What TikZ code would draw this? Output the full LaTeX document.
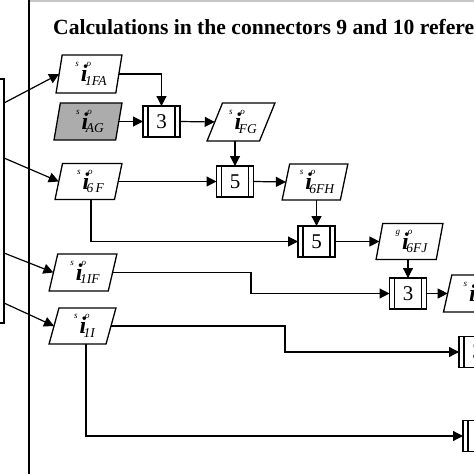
\documentclass[tikz,border=0pt]{standalone}
\usepackage{fontspec}
\setmainfont{Liberation Serif}
\usetikzlibrary{shapes.geometric,arrows.meta,calc}
\newcommand\plbl[2]{\hspace{4pt}\raisebox{15pt}{\fontsize{9}{9}\selectfont\itshape #1}\hspace{2pt}{\fontsize{24}{24}\selectfont\bfseries\itshape i}\rlap{\raisebox{15pt}{\hspace{-1pt}\fontsize{9}{9}\selectfont\itshape o}}\hspace{-2.5pt}\raisebox{-3.5pt}{\fontsize{13.5}{13.5}\selectfont\itshape #2}}
\tikzset{
  para/.style 2 args={trapezium, trapezium stretches=true, draw, line width=1.3pt,
    inner sep=0pt, outer sep=0pt, minimum height=37pt, minimum width=67pt,
    trapezium left angle=#1, trapezium right angle=#2},
  procbox/.style={draw, line width=1.4pt, minimum width=37pt, minimum height=31pt,
    inner sep=0pt, outer sep=0pt, font=\fontsize{21}{21}\selectfont,
    path picture={\draw[line width=1.2pt]
      ([xshift=5pt]path picture bounding box.north west) -- ([xshift=5pt]path picture bounding box.south west)
      ([xshift=-5pt]path picture bounding box.north east) -- ([xshift=-5pt]path picture bounding box.south east);}},
  conn/.style={line width=1.2pt, -{Triangle[length=10pt,width=10pt]}},
}
\begin{document}
\begin{tikzpicture}[x=1pt,y=-1pt]
\useasboundingbox (0,0) rectangle (474,474);
\clip (0,0) rectangle (474,474);
% frame
\draw[line width=1.8pt, gray!45] (29,0.9) -- (474,0.9);
\draw[line width=1.4pt] (29,0) -- (29,474);
% source block (cut at left)
\node[draw, line width=1.3pt, outer sep=0pt, minimum width=20pt, minimum height=244pt, anchor=north east] (src) at (4,79) {};
\coordinate (s1) at (4,103);
\coordinate (s2) at (4,158);
\coordinate (s3) at (4,253);
\coordinate (s4) at (4,303);
% title
\node[anchor=base west, inner sep=0pt, font=\fontsize{21.6}{22}\selectfont\bfseries] (title) at (53,34) {Calculations in the connectors 9 and 10 reference};
% nodes
\node[para={80}{100}, minimum width=66pt, minimum height=38pt] (fa) at (89,74) {\plbl{s}{1FA}};
\node[para={81}{99}, minimum width=68pt, fill=gray!65] (ag) at (88,121.5) {\plbl{s}{AG}};
\node[procbox] (b3) at (161.5,121.5) {3};
\node[para={60}{120}, minimum width=68pt, minimum height=38pt] (fg) at (241,122) {\plbl{s}{FG}};
\node[para={79}{101}, minimum height=36pt] (f6) at (88.5,181.5) {\plbl{s}{6\,F}};
\node[procbox] (b5) at (235,181.5) {5};
\node[para={76}{104}, minimum width=66pt, minimum height=36pt] (fh) at (315,182) {\plbl{s}{6FH}};
\node[procbox] (b5b) at (316.5,241.5) {5};
\node[para={79}{101}, minimum height=36pt] (fj) at (409.5,241.5) {\plbl{g}{6FJ}};
\node[procbox] (b3b) at (408,293.5) {3};
\node[para={76}{104}] (pp) at (477,293.5) {\plbl{s}{\phantom{6FJ}}};
\node[procbox] (b3c) at (477.5,352) {3};
\node[procbox] (b4) at (481.5,436) {};
\node[para={76}{104}, minimum width=68pt] (mf) at (83,272.5) {\plbl{s}{1IF}};
\node[para={77}{103}, minimum height=36pt] (i1) at (82.5,326) {\plbl{s}{1I}};
% connectors from source
\draw[conn] (s1) -- (fa.left side);
\draw[conn] (s2) -- (f6.left side);
\draw[conn] (s3) -- (mf.left side);
\draw[conn] (s4) -- (i1.left side);
% flow
\draw[conn] (fa.right side) -| (b3.north);
\draw[conn] (ag.right side) -- (b3.west);
\draw[conn] (b3.east) -- (fg.left side);
\draw[conn] (fg.south -| b5.north) -- (b5.north);
\draw[conn] (f6.right side) -- (b5.west);
\draw[conn] (b5.east) -- (fh.left side);
\draw[conn] (fh.south -| b5b.north) -- (b5b.north);
\draw[conn] ([xshift=2.5pt]f6.south) |- (b5b.west);
\draw[conn] (b5b.east) -- (fj.left side);
\draw[conn] (fj.south -| b3b.north) -- (b3b.north);
\draw[conn] (mf.right side) -| ($(mf.right side)!.5!(b3b.west)$) |- (b3b.west);
\draw[conn] (b3b.east) -- (pp.left side);
\draw[conn] ([xshift=2pt]pp.south -| b3c.north) -- ([xshift=2pt]b3c.north);
\draw[conn] (i1.right side) -| ($(i1.right side)!.5!(b3c.west)$) |- (b3c.west);
\draw[conn] ([xshift=3.5pt]i1.south) |- (b4.west);
\end{tikzpicture}
\end{document}
